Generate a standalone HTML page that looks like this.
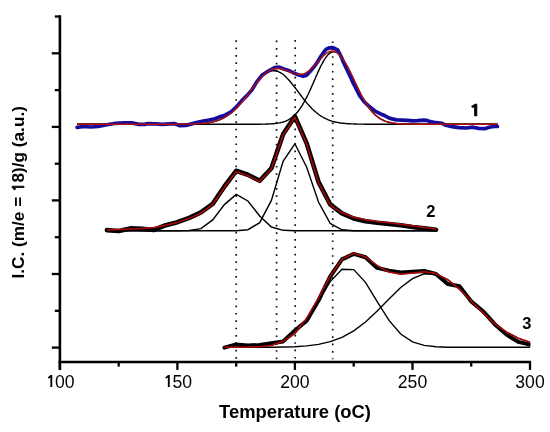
<!DOCTYPE html>
<html><head><meta charset="utf-8"><title>TPD plot</title>
<style>
html,body{margin:0;padding:0;background:#fff;width:550px;height:432px;overflow:hidden}
svg{display:block}
text{font-family:"Liberation Sans",Arial,sans-serif;fill:#000}
.tl{font-size:17.6px}
.xt{font-size:18.4px;font-weight:bold}
.yt{font-size:17.2px;font-weight:bold}
.lb{font-size:16.5px;font-weight:bold}
.one{font-family:"NanumGothic","Liberation Sans",sans-serif;font-weight:bold;font-size:15.5px}
.oneb{font-family:"NanumGothic","Liberation Sans",sans-serif;font-weight:bold;font-size:14.8px;stroke:#000;stroke-width:0.6px}
.oney{font-family:"NanumGothic","Liberation Sans",sans-serif;font-weight:bold;font-size:14.8px;stroke:#000;stroke-width:0.7px}
</style></head><body>
<svg width="550" height="432" viewBox="0 0 550 432">
<defs><clipPath id="cp"><rect x="0" y="0" width="530.5" height="432"/></clipPath></defs>
<rect width="550" height="432" fill="#fff"/>
<line x1="236.2" y1="40.2" x2="236.2" y2="359.2" stroke="#111" stroke-width="1.7" stroke-dasharray="1.7 5.67"/>
<line x1="276.6" y1="40.6" x2="276.6" y2="359.2" stroke="#111" stroke-width="1.7" stroke-dasharray="1.7 5.67"/>
<line x1="295.2" y1="40.0" x2="295.2" y2="359.2" stroke="#111" stroke-width="1.7" stroke-dasharray="1.7 5.67"/>
<line x1="332.7" y1="41.4" x2="332.7" y2="359.2" stroke="#111" stroke-width="1.7" stroke-dasharray="1.7 5.67"/>
<polyline points="77.0,124.2 78.1,124.2 79.1,124.2 80.2,124.2 81.2,124.2 82.3,124.2 83.3,124.2 84.4,124.2 85.4,124.2 86.5,124.2 87.5,124.2 88.6,124.2 89.6,124.2 90.7,124.2 91.8,124.2 92.8,124.2 93.9,124.2 94.9,124.2 96.0,124.2 97.0,124.2 98.1,124.2 99.1,124.2 100.2,124.2 101.2,124.2 102.3,124.2 103.3,124.2 104.4,124.2 105.5,124.2 106.5,124.2 107.6,124.2 108.6,124.2 109.7,124.2 110.7,124.2 111.8,124.2 112.8,124.2 113.9,124.2 114.9,124.2 116.0,124.2 117.0,124.2 118.1,124.2 119.2,124.2 120.2,124.2 121.3,124.2 122.3,124.2 123.4,124.2 124.4,124.2 125.5,124.2 126.5,124.2 127.6,124.2 128.6,124.2 129.7,124.2 130.7,124.2 131.8,124.2 132.9,124.2 133.9,124.2 135.0,124.2 136.0,124.2 137.1,124.2 138.1,124.2 139.2,124.2 140.2,124.2 141.3,124.2 142.3,124.2 143.4,124.2 144.4,124.2 145.5,124.2 146.6,124.2 147.6,124.2 148.7,124.2 149.7,124.2 150.8,124.2 151.8,124.2 152.9,124.2 153.9,124.2 155.0,124.2 156.0,124.2 157.1,124.2 158.1,124.2 159.2,124.2 160.3,124.2 161.3,124.2 162.4,124.2 163.4,124.2 164.5,124.2 165.5,124.2 166.6,124.2 167.6,124.2 168.7,124.2 169.7,124.2 170.8,124.2 171.8,124.2 172.9,124.2 174.0,124.2 175.0,124.2 176.1,124.2 177.1,124.2 178.2,124.2 179.2,124.2 180.3,124.2 181.3,124.2 182.4,124.2 183.4,124.1 184.5,124.1 185.6,124.1 186.6,124.1 187.7,124.1 188.7,124.1 189.8,124.1 190.8,124.0 191.9,124.0 192.9,124.0 194.0,124.0 195.0,123.9 196.1,123.9 197.1,123.8 198.2,123.8 199.3,123.7 200.3,123.6 201.4,123.6 202.4,123.5 203.5,123.4 204.5,123.3 205.6,123.2 206.6,123.0 207.7,122.9 208.7,122.7 209.8,122.5 210.8,122.3 211.9,122.1 213.0,121.9 214.0,121.6 215.1,121.3 216.1,121.0 217.2,120.7 218.2,120.3 219.3,119.9 220.3,119.4 221.4,119.0 222.4,118.5 223.5,117.9 224.5,117.3 225.6,116.7 226.7,116.0 227.7,115.3 228.8,114.6 229.8,113.8 230.9,113.0 231.9,112.1 233.0,111.1 234.0,110.2 235.1,109.2 236.1,108.1 237.2,107.0 238.2,105.8 239.3,104.7 240.4,103.4 241.4,102.2 242.5,100.9 243.5,99.6 244.6,98.2 245.6,96.9 246.7,95.5 247.7,94.1 248.8,92.7 249.8,91.3 250.9,89.9 251.9,88.5 253.0,87.1 254.1,85.7 255.1,84.4 256.2,83.1 257.2,81.8 258.3,80.6 259.3,79.4 260.4,78.3 261.4,77.2 262.5,76.2 263.5,75.3 264.6,74.4 265.6,73.6 266.7,72.9 267.8,72.3 268.8,71.8 269.9,71.4 270.9,71.1 272.0,70.9 273.0,70.7 274.1,70.7 275.1,70.8 276.2,71.0 277.2,71.2 278.3,71.6 279.3,72.1 280.4,72.6 281.5,73.3 282.5,74.0 283.6,74.8 284.6,75.7 285.7,76.7 286.7,77.8 287.8,78.9 288.8,80.0 289.9,81.2 290.9,82.5 292.0,83.8 293.0,85.1 294.1,86.5 295.2,87.8 296.2,89.2 297.3,90.6 298.3,92.0 299.4,93.4 300.4,94.8 301.5,96.2 302.5,97.6 303.6,99.0 304.6,100.3 305.7,101.6 306.7,102.9 307.8,104.1 308.9,105.3 309.9,106.5 311.0,107.6 312.0,108.7 313.1,109.7 314.1,110.7 315.2,111.6 316.2,112.5 317.3,113.4 318.3,114.2 319.4,115.0 320.4,115.7 321.5,116.4 322.6,117.0 323.6,117.7 324.7,118.2 325.7,118.7 326.8,119.2 327.8,119.7 328.9,120.1 329.9,120.5 331.0,120.8 332.0,121.2 333.1,121.5 334.1,121.7 335.2,122.0 336.3,122.2 337.3,122.4 338.4,122.6 339.4,122.8 340.5,123.0 341.5,123.1 342.6,123.2 343.6,123.3 344.7,123.4 345.7,123.5 346.8,123.6 347.8,123.7 348.9,123.7 350.0,123.8 351.0,123.9 352.1,123.9 353.1,123.9 354.2,124.0 355.2,124.0 356.3,124.0 357.3,124.1 358.4,124.1 359.4,124.1 360.5,124.1 361.5,124.1 362.6,124.1 363.7,124.1 364.7,124.2 365.8,124.2 366.8,124.2 367.9,124.2 368.9,124.2 370.0,124.2 371.0,124.2 372.1,124.2 373.1,124.2 374.2,124.2 375.2,124.2 376.3,124.2 377.4,124.2 378.4,124.2 379.5,124.2 380.5,124.2 381.6,124.2 382.6,124.2 383.7,124.2 384.7,124.2 385.8,124.2 386.8,124.2 387.9,124.2 388.9,124.2 390.0,124.2 391.1,124.2 392.1,124.2 393.2,124.2 394.2,124.2 395.3,124.2 396.3,124.2 397.4,124.2 398.4,124.2 399.5,124.2 400.5,124.2 401.6,124.2 402.7,124.2 403.7,124.2 404.8,124.2 405.8,124.2 406.9,124.2 407.9,124.2 409.0,124.2 410.0,124.2 411.1,124.2 412.1,124.2 413.2,124.2 414.2,124.2 415.3,124.2 416.4,124.2 417.4,124.2 418.5,124.2 419.5,124.2 420.6,124.2 421.6,124.2 422.7,124.2 423.7,124.2 424.8,124.2 425.8,124.2 426.9,124.2 427.9,124.2 429.0,124.2 430.1,124.2 431.1,124.2 432.2,124.2 433.2,124.2 434.3,124.2 435.3,124.2 436.4,124.2 437.4,124.2 438.5,124.2 439.5,124.2 440.6,124.2 441.6,124.2 442.7,124.2 443.8,124.2 444.8,124.2 445.9,124.2 446.9,124.2 448.0,124.2 449.0,124.2 450.1,124.2 451.1,124.2 452.2,124.2 453.2,124.2 454.3,124.2 455.3,124.2 456.4,124.2 457.5,124.2 458.5,124.2 459.6,124.2 460.6,124.2 461.7,124.2 462.7,124.2 463.8,124.2 464.8,124.2 465.9,124.2 466.9,124.2 468.0,124.2 469.0,124.2 470.1,124.2 471.2,124.2 472.2,124.2 473.3,124.2 474.3,124.2 475.4,124.2 476.4,124.2 477.5,124.2 478.5,124.2 479.6,124.2 480.6,124.2 481.7,124.2 482.7,124.2 483.8,124.2 484.9,124.2 485.9,124.2 487.0,124.2 488.0,124.2 489.1,124.2 490.1,124.2 491.2,124.2 492.2,124.2 493.3,124.2 494.3,124.2 495.4,124.2 496.4,124.2 497.5,124.2" fill="none" stroke="#000" stroke-width="1.4"/>
<polyline points="77.0,124.2 78.1,124.2 79.1,124.2 80.2,124.2 81.2,124.2 82.3,124.2 83.3,124.2 84.4,124.2 85.4,124.2 86.5,124.2 87.5,124.2 88.6,124.2 89.6,124.2 90.7,124.2 91.8,124.2 92.8,124.2 93.9,124.2 94.9,124.2 96.0,124.2 97.0,124.2 98.1,124.2 99.1,124.2 100.2,124.2 101.2,124.2 102.3,124.2 103.3,124.2 104.4,124.2 105.5,124.2 106.5,124.2 107.6,124.2 108.6,124.2 109.7,124.2 110.7,124.2 111.8,124.2 112.8,124.2 113.9,124.2 114.9,124.2 116.0,124.2 117.0,124.2 118.1,124.2 119.2,124.2 120.2,124.2 121.3,124.2 122.3,124.2 123.4,124.2 124.4,124.2 125.5,124.2 126.5,124.2 127.6,124.2 128.6,124.2 129.7,124.2 130.7,124.2 131.8,124.2 132.9,124.2 133.9,124.2 135.0,124.2 136.0,124.2 137.1,124.2 138.1,124.2 139.2,124.2 140.2,124.2 141.3,124.2 142.3,124.2 143.4,124.2 144.4,124.2 145.5,124.2 146.6,124.2 147.6,124.2 148.7,124.2 149.7,124.2 150.8,124.2 151.8,124.2 152.9,124.2 153.9,124.2 155.0,124.2 156.0,124.2 157.1,124.2 158.1,124.2 159.2,124.2 160.3,124.2 161.3,124.2 162.4,124.2 163.4,124.2 164.5,124.2 165.5,124.2 166.6,124.2 167.6,124.2 168.7,124.2 169.7,124.2 170.8,124.2 171.8,124.2 172.9,124.2 174.0,124.2 175.0,124.2 176.1,124.2 177.1,124.2 178.2,124.2 179.2,124.2 180.3,124.2 181.3,124.2 182.4,124.2 183.4,124.2 184.5,124.2 185.6,124.2 186.6,124.2 187.7,124.2 188.7,124.2 189.8,124.2 190.8,124.2 191.9,124.2 192.9,124.2 194.0,124.2 195.0,124.2 196.1,124.2 197.1,124.2 198.2,124.2 199.3,124.2 200.3,124.2 201.4,124.2 202.4,124.2 203.5,124.2 204.5,124.2 205.6,124.2 206.6,124.2 207.7,124.2 208.7,124.2 209.8,124.2 210.8,124.2 211.9,124.2 213.0,124.2 214.0,124.2 215.1,124.2 216.1,124.2 217.2,124.2 218.2,124.2 219.3,124.2 220.3,124.2 221.4,124.2 222.4,124.2 223.5,124.2 224.5,124.2 225.6,124.2 226.7,124.2 227.7,124.2 228.8,124.2 229.8,124.2 230.9,124.2 231.9,124.2 233.0,124.2 234.0,124.2 235.1,124.2 236.1,124.2 237.2,124.2 238.2,124.2 239.3,124.2 240.4,124.2 241.4,124.2 242.5,124.2 243.5,124.2 244.6,124.2 245.6,124.2 246.7,124.2 247.7,124.2 248.8,124.2 249.8,124.2 250.9,124.2 251.9,124.2 253.0,124.2 254.1,124.2 255.1,124.2 256.2,124.2 257.2,124.2 258.3,124.2 259.3,124.2 260.4,124.2 261.4,124.1 262.5,124.1 263.5,124.1 264.6,124.1 265.6,124.1 266.7,124.0 267.8,124.0 268.8,124.0 269.9,123.9 270.9,123.9 272.0,123.8 273.0,123.7 274.1,123.6 275.1,123.5 276.2,123.4 277.2,123.3 278.3,123.1 279.3,122.9 280.4,122.7 281.5,122.4 282.5,122.2 283.6,121.8 284.6,121.5 285.7,121.1 286.7,120.6 287.8,120.1 288.8,119.5 289.9,118.9 290.9,118.2 292.0,117.4 293.0,116.5 294.1,115.6 295.2,114.6 296.2,113.5 297.3,112.3 298.3,111.0 299.4,109.6 300.4,108.1 301.5,106.5 302.5,104.8 303.6,103.0 304.6,101.1 305.7,99.1 306.7,97.1 307.8,95.0 308.9,92.7 309.9,90.5 311.0,88.1 312.0,85.8 313.1,83.4 314.1,80.9 315.2,78.5 316.2,76.1 317.3,73.7 318.3,71.4 319.4,69.1 320.4,66.9 321.5,64.8 322.6,62.8 323.6,60.9 324.7,59.2 325.7,57.6 326.8,56.2 327.8,54.9 328.9,53.9 329.9,53.1 331.0,52.4 332.0,52.0 333.1,51.8 334.1,51.8 335.2,52.0 336.3,52.4 337.3,53.0 338.4,53.8 339.4,54.7 340.5,55.8 341.5,57.1 342.6,58.5 343.6,60.1 344.7,61.8 345.7,63.6 346.8,65.5 347.8,67.4 348.9,69.5 350.0,71.6 351.0,73.8 352.1,76.0 353.1,78.3 354.2,80.5 355.2,82.8 356.3,85.0 357.3,87.2 358.4,89.4 359.4,91.5 360.5,93.6 361.5,95.6 362.6,97.6 363.7,99.5 364.7,101.3 365.8,103.1 366.8,104.7 367.9,106.3 368.9,107.8 370.0,109.2 371.0,110.5 372.1,111.7 373.1,112.9 374.2,114.0 375.2,115.0 376.3,115.9 377.4,116.7 378.4,117.5 379.5,118.2 380.5,118.9 381.6,119.5 382.6,120.0 383.7,120.5 384.7,120.9 385.8,121.3 386.8,121.7 387.9,122.0 388.9,122.3 390.0,122.5 391.1,122.8 392.1,123.0 393.2,123.1 394.2,123.3 395.3,123.4 396.3,123.5 397.4,123.6 398.4,123.7 399.5,123.8 400.5,123.8 401.6,123.9 402.7,123.9 403.7,124.0 404.8,124.0 405.8,124.1 406.9,124.1 407.9,124.1 409.0,124.1 410.0,124.1 411.1,124.1 412.1,124.2 413.2,124.2 414.2,124.2 415.3,124.2 416.4,124.2 417.4,124.2 418.5,124.2 419.5,124.2 420.6,124.2 421.6,124.2 422.7,124.2 423.7,124.2 424.8,124.2 425.8,124.2 426.9,124.2 427.9,124.2 429.0,124.2 430.1,124.2 431.1,124.2 432.2,124.2 433.2,124.2 434.3,124.2 435.3,124.2 436.4,124.2 437.4,124.2 438.5,124.2 439.5,124.2 440.6,124.2 441.6,124.2 442.7,124.2 443.8,124.2 444.8,124.2 445.9,124.2 446.9,124.2 448.0,124.2 449.0,124.2 450.1,124.2 451.1,124.2 452.2,124.2 453.2,124.2 454.3,124.2 455.3,124.2 456.4,124.2 457.5,124.2 458.5,124.2 459.6,124.2 460.6,124.2 461.7,124.2 462.7,124.2 463.8,124.2 464.8,124.2 465.9,124.2 466.9,124.2 468.0,124.2 469.0,124.2 470.1,124.2 471.2,124.2 472.2,124.2 473.3,124.2 474.3,124.2 475.4,124.2 476.4,124.2 477.5,124.2 478.5,124.2 479.6,124.2 480.6,124.2 481.7,124.2 482.7,124.2 483.8,124.2 484.9,124.2 485.9,124.2 487.0,124.2 488.0,124.2 489.1,124.2 490.1,124.2 491.2,124.2 492.2,124.2 493.3,124.2 494.3,124.2 495.4,124.2 496.4,124.2 497.5,124.2" fill="none" stroke="#000" stroke-width="1.4"/>
<polyline points="77.1,127.3 83.6,126.5 90.9,127.0 98.2,126.5 106.9,124.8 115.6,123.3 124.4,122.9 131.6,122.9 138.9,124.4 144.7,124.4 148.0,123.6 155.3,123.9 162.5,124.3 169.8,123.9 174.2,123.6 180.0,125.7 185.8,125.4 191.6,123.9 197.5,122.2 203.3,121.0 209.1,120.0 214.9,118.8 220.7,116.6 225.0,115.2 231.0,111.9 236.3,107.0 241.6,100.9 247.6,94.9 252.1,89.6 256.6,82.1 261.9,75.3 268.7,70.8 274.6,67.6 279.3,67.1 283.9,69.0 288.5,70.4 294.0,73.1 298.0,74.8 303.3,76.3 306.5,75.3 310.0,71.5 314.0,66.8 317.5,62.0 320.8,56.5 323.5,52.5 326.2,49.2 329.5,47.8 333.0,47.6 337.6,50.0 339.8,54.0 341.8,58.0 343.3,62.0 345.2,66.0 347.0,69.8 350.0,76.0 353.4,83.5 356.2,88.8 359.8,95.8 364.0,101.5 369.0,106.3 375.2,111.2 381.5,114.3 385.0,115.8 388.0,117.4 392.0,118.9 396.6,119.9 401.3,120.1 407.1,120.4 412.9,120.9 417.6,120.7 423.4,120.1 426.9,120.4 431.5,121.9 436.2,122.7 442.0,123.4 445.0,124.9 452.0,126.6 459.0,127.6 466.0,128.0 472.9,127.2 478.7,128.4 484.6,128.7 489.2,127.2 493.9,126.4 497.4,126.4" fill="none" stroke="#140c9e" stroke-width="3.7" stroke-linejoin="round" stroke-linecap="round"/>
<polyline points="77.0,124.2 78.1,124.2 79.1,124.2 80.2,124.2 81.2,124.2 82.3,124.2 83.3,124.2 84.4,124.2 85.4,124.2 86.5,124.2 87.5,124.2 88.6,124.2 89.6,124.2 90.7,124.2 91.8,124.2 92.8,124.2 93.9,124.2 94.9,124.2 96.0,124.2 97.0,124.2 98.1,124.2 99.1,124.2 100.2,124.2 101.2,124.2 102.3,124.2 103.3,124.2 104.4,124.2 105.5,124.2 106.5,124.2 107.6,124.2 108.6,124.2 109.7,124.2 110.7,124.2 111.8,124.2 112.8,124.2 113.9,124.2 114.9,124.2 116.0,124.2 117.0,124.2 118.1,124.2 119.2,124.2 120.2,124.2 121.3,124.2 122.3,124.2 123.4,124.2 124.4,124.2 125.5,124.2 126.5,124.2 127.6,124.2 128.6,124.2 129.7,124.2 130.7,124.2 131.8,124.2 132.9,124.2 133.9,124.2 135.0,124.2 136.0,124.2 137.1,124.2 138.1,124.2 139.2,124.2 140.2,124.2 141.3,124.2 142.3,124.2 143.4,124.2 144.4,124.2 145.5,124.2 146.6,124.2 147.6,124.2 148.7,124.2 149.7,124.2 150.8,124.2 151.8,124.2 152.9,124.2 153.9,124.2 155.0,124.2 156.0,124.2 157.1,124.2 158.1,124.2 159.2,124.2 160.3,124.2 161.3,124.2 162.4,124.2 163.4,124.2 164.5,124.2 165.5,124.2 166.6,124.2 167.6,124.2 168.7,124.2 169.7,124.2 170.8,124.2 171.8,124.2 172.9,124.2 174.0,124.2 175.0,124.2 176.1,124.2 177.1,124.2 178.2,124.2 179.2,124.2 180.3,124.2 181.3,124.2 182.4,124.2 183.4,124.1 184.5,124.1 185.6,124.1 186.6,124.1 187.7,124.1 188.7,124.1 189.8,124.1 190.8,124.0 191.9,124.0 192.9,124.0 194.0,123.9 195.0,123.9 196.1,123.9 197.1,123.8 198.2,123.8 199.3,123.7 200.3,123.6 201.4,123.6 202.4,123.5 203.5,123.4 204.5,123.3 205.6,123.2 206.6,123.0 207.7,122.9 208.7,122.7 209.8,122.5 210.8,122.3 211.9,122.1 213.0,121.9 214.0,121.6 215.1,121.4 216.1,121.0 217.2,120.7 218.2,120.3 219.3,120.0 220.3,119.5 221.4,119.1 222.4,118.6 223.5,118.0 224.5,117.5 225.6,116.9 226.7,116.2 227.7,115.5 228.8,114.8 229.8,114.0 230.9,113.2 231.9,112.4 233.0,111.5 234.0,110.5 235.1,109.5 236.1,108.5 237.2,107.4 238.2,106.3 239.3,105.1 240.4,104.0 241.4,102.7 242.5,101.5 243.5,100.2 244.6,98.8 245.6,97.5 246.7,96.1 247.7,94.7 248.8,93.3 249.8,91.9 250.9,90.5 251.9,89.1 253.0,87.7 254.1,86.3 255.1,84.9 256.2,83.6 257.2,82.2 258.3,81.0 259.3,79.7 260.4,78.5 261.4,77.3 262.5,76.2 263.5,75.2 264.6,74.2 265.6,73.3 266.7,72.5 267.8,71.7 268.8,71.0 269.9,70.4 270.9,69.9 272.0,69.5 273.0,69.1 274.1,68.8 275.1,68.6 276.2,68.5 277.2,68.4 278.3,68.5 279.3,68.6 280.4,68.7 281.5,69.0 282.5,69.2 283.6,69.5 284.6,69.9 285.7,70.3 286.7,70.7 287.8,71.1 288.8,71.6 289.9,72.0 290.9,72.4 292.0,72.8 293.0,73.2 294.1,73.6 295.2,73.9 296.2,74.1 297.3,74.3 298.3,74.4 299.4,74.4 300.4,74.4 301.5,74.2 302.5,74.0 303.6,73.7 304.6,73.3 305.7,72.8 306.7,72.2 307.8,71.6 308.9,70.8 309.9,70.0 311.0,69.1 312.0,68.1 313.1,67.0 314.1,65.9 315.2,64.8 316.2,63.6 317.3,62.4 318.3,61.2 319.4,60.0 320.4,58.9 321.5,57.7 322.6,56.7 323.6,55.6 324.7,54.7 325.7,53.8 326.8,53.1 327.8,52.4 328.9,51.9 329.9,51.5 331.0,51.2 332.0,51.1 333.1,51.2 334.1,51.4 335.2,51.7 336.3,52.2 337.3,52.9 338.4,53.7 339.4,54.7 340.5,55.8 341.5,57.1 342.6,58.5 343.6,60.1 344.7,61.7 345.7,63.5 346.8,65.4 347.8,67.3 348.9,69.4 350.0,71.5 351.0,73.6 352.1,75.8 353.1,78.0 354.2,80.2 355.2,82.5 356.3,84.7 357.3,86.9 358.4,89.0 359.4,91.2 360.5,93.2 361.5,95.3 362.6,97.2 363.7,99.1 364.7,101.0 365.8,102.7 366.8,104.4 367.9,106.0 368.9,107.5 370.0,108.9 371.0,110.2 372.1,111.5 373.1,112.7 374.2,113.7 375.2,114.8 376.3,115.7 377.4,116.6 378.4,117.4 379.5,118.1 380.5,118.8 381.6,119.4 382.6,119.9 383.7,120.4 384.7,120.9 385.8,121.3 386.8,121.6 387.9,121.9 388.9,122.2 390.0,122.5 391.1,122.7 392.1,122.9 393.2,123.1 394.2,123.2 395.3,123.4 396.3,123.5 397.4,123.6 398.4,123.7 399.5,123.8 400.5,123.8 401.6,123.9 402.7,123.9 403.7,124.0 404.8,124.0 405.8,124.0 406.9,124.1 407.9,124.1 409.0,124.1 410.0,124.1 411.1,124.1 412.1,124.2 413.2,124.2 414.2,124.2 415.3,124.2 416.4,124.2 417.4,124.2 418.5,124.2 419.5,124.2 420.6,124.2 421.6,124.2 422.7,124.2 423.7,124.2 424.8,124.2 425.8,124.2 426.9,124.2 427.9,124.2 429.0,124.2 430.1,124.2 431.1,124.2 432.2,124.2 433.2,124.2 434.3,124.2 435.3,124.2 436.4,124.2 437.4,124.2 438.5,124.2 439.5,124.2 440.6,124.2 441.6,124.2 442.7,124.2 443.8,124.2 444.8,124.2 445.9,124.2 446.9,124.2 448.0,124.2 449.0,124.2 450.1,124.2 451.1,124.2 452.2,124.2 453.2,124.2 454.3,124.2 455.3,124.2 456.4,124.2 457.5,124.2 458.5,124.2 459.6,124.2 460.6,124.2 461.7,124.2 462.7,124.2 463.8,124.2 464.8,124.2 465.9,124.2 466.9,124.2 468.0,124.2 469.0,124.2 470.1,124.2 471.2,124.2 472.2,124.2 473.3,124.2 474.3,124.2 475.4,124.2 476.4,124.2 477.5,124.2 478.5,124.2 479.6,124.2 480.6,124.2 481.7,124.2 482.7,124.2 483.8,124.2 484.9,124.2 485.9,124.2 487.0,124.2 488.0,124.2 489.1,124.2 490.1,124.2 491.2,124.2 492.2,124.2 493.3,124.2 494.3,124.2 495.4,124.2 496.4,124.2 497.5,124.2" fill="none" stroke="#b40c0c" stroke-width="1.4"/>
<polyline points="106.9,230.8 177.4,230.8 189.2,230.5 200.9,228.6 212.7,219.9 224.4,204.6 236.2,194.4 247.9,201.0 259.7,216.0 271.4,227.0 283.2,230.3 294.9,230.8 436.0,230.8" fill="none" stroke="#000" stroke-width="1.4"/>
<polyline points="106.9,230.8 236.2,230.8 247.9,229.7 259.7,222.7 271.4,200.4 283.2,161.0 294.9,143.8 306.7,167.3 318.5,202.0 330.2,223.4 342.0,229.8 353.7,230.8 436.0,230.8" fill="none" stroke="#000" stroke-width="1.4"/>
<polyline points="106.9,230.1 118.7,231.0 130.4,228.4 142.2,228.9 153.9,230.0 165.7,225.2 177.4,222.2 189.2,217.8 200.9,212.4 212.7,203.9 224.4,186.5 236.2,170.8 247.9,174.8 259.7,180.8 271.4,168.3 283.2,134.0 294.9,116.4 306.7,143.3 318.5,181.9 330.2,204.4 342.0,213.4 353.7,218.5 365.5,221.2 377.2,222.8 389.0,224.0 400.7,225.3 412.5,227.0 424.2,228.4 436.0,229.8" fill="none" stroke="#000" stroke-width="4.6" stroke-linejoin="round" stroke-linecap="round"/>
<polyline points="106.9,230.1 118.7,229.6 130.4,229.0 142.2,228.4 153.9,227.4 165.7,225.3 177.4,222.4 189.2,218.4 200.9,213.2 212.7,204.7 224.4,187.3 236.2,171.6 247.9,175.6 259.7,181.6 271.4,169.1 283.2,134.8 294.9,117.2 306.7,144.1 318.5,182.7 330.2,205.2 342.0,212.8 353.7,217.2 365.5,219.8 377.2,221.4 389.0,222.8 400.7,224.2 412.5,225.8 424.2,227.4 436.0,229.0" fill="none" stroke="#b00808" stroke-width="1.5" stroke-linejoin="round"/>
<polyline points="224.4,347.3 236.2,347.3 247.9,347.2 259.7,346.7 271.4,345.3 283.2,341.5 294.9,333.5 306.7,319.7 318.5,300.8 330.2,281.6 342.0,269.3 353.7,269.6 365.5,282.3 377.2,301.6 389.0,320.4 400.7,334.0 412.5,341.8 424.2,345.4 436.0,346.7 447.7,347.2 459.5,347.3 471.2,347.3 483.0,347.3 494.7,347.3 506.5,347.3 518.2,347.3 530.0,347.3" fill="none" stroke="#000" stroke-width="1.4"/>
<polyline points="224.4,347.3 236.2,347.3 247.9,347.3 259.7,347.3 271.4,347.2 283.2,347.0 294.9,346.7 306.7,345.9 318.5,344.4 330.2,341.7 342.0,337.4 353.7,330.9 365.5,322.0 377.2,311.0 389.0,299.0 400.7,287.5 412.5,278.6 424.2,273.8 436.0,274.2 447.7,279.7 459.5,289.3 471.2,301.0 483.0,312.9 494.7,323.6 506.5,332.1 518.2,338.2 530.0,342.3" fill="none" stroke="#000" stroke-width="1.4"/>
<polyline points="224.4,347.6 236.2,344.4 247.9,345.4 259.7,345.0 271.4,343.2 283.2,341.4 294.9,330.5 306.7,320.7 318.5,300.5 330.2,276.5 342.0,259.4 353.7,253.9 365.5,257.2 377.2,267.9 389.0,270.6 400.7,272.5 412.5,271.7 424.2,271.0 436.0,274.0 447.7,284.0 459.5,286.3 471.2,301.4 483.0,311.2 494.7,324.2 506.5,334.6 518.2,341.9 530.0,344.6" fill="none" stroke="#000" stroke-width="4" stroke-linejoin="round" stroke-linecap="round" clip-path="url(#cp)"/>
<polyline points="224.4,347.3 236.2,347.3 247.9,347.1 259.7,346.7 271.4,345.2 283.2,341.3 294.9,332.9 306.7,318.3 318.5,297.9 330.2,276.1 342.0,259.4 353.7,253.2 365.5,257.0 377.2,265.4 389.0,272.1 400.7,274.2 412.5,273.0 424.2,271.8 436.0,273.6 447.7,279.6 459.5,289.2 471.2,301.0 483.0,312.9 494.7,323.6 506.5,332.1 518.2,338.2 530.0,342.3" fill="none" stroke="#b00808" stroke-width="1.5" stroke-linejoin="round"/>
<line x1="59.9" y1="15.2" x2="59.9" y2="369.9" stroke="#000" stroke-width="2.6"/>
<line x1="58.6" y1="362.1" x2="531.1" y2="362.1" stroke="#000" stroke-width="2.5"/>
<line x1="51.8" y1="53.3" x2="59.9" y2="53.3" stroke="#000" stroke-width="2.3"/>
<line x1="51.8" y1="126.9" x2="59.9" y2="126.9" stroke="#000" stroke-width="2.3"/>
<line x1="51.8" y1="200.4" x2="59.9" y2="200.4" stroke="#000" stroke-width="2.3"/>
<line x1="51.8" y1="274.0" x2="59.9" y2="274.0" stroke="#000" stroke-width="2.3"/>
<line x1="51.8" y1="347.6" x2="59.9" y2="347.6" stroke="#000" stroke-width="2.3"/>
<line x1="54.8" y1="16.5" x2="59.9" y2="16.5" stroke="#000" stroke-width="2.3"/>
<line x1="54.8" y1="90.1" x2="59.9" y2="90.1" stroke="#000" stroke-width="2.3"/>
<line x1="54.8" y1="163.7" x2="59.9" y2="163.7" stroke="#000" stroke-width="2.3"/>
<line x1="54.8" y1="237.2" x2="59.9" y2="237.2" stroke="#000" stroke-width="2.3"/>
<line x1="54.8" y1="310.8" x2="59.9" y2="310.8" stroke="#000" stroke-width="2.3"/>
<line x1="59.9" y1="362" x2="59.9" y2="369.9" stroke="#000" stroke-width="2.3"/>
<line x1="177.4" y1="362" x2="177.4" y2="369.9" stroke="#000" stroke-width="2.3"/>
<line x1="294.9" y1="362" x2="294.9" y2="369.9" stroke="#000" stroke-width="2.3"/>
<line x1="412.5" y1="362" x2="412.5" y2="369.9" stroke="#000" stroke-width="2.3"/>
<line x1="530.0" y1="362" x2="530.0" y2="369.9" stroke="#000" stroke-width="2.3"/>
<line x1="118.7" y1="362" x2="118.7" y2="366.6" stroke="#000" stroke-width="2.3"/>
<line x1="236.2" y1="362" x2="236.2" y2="366.6" stroke="#000" stroke-width="2.3"/>
<line x1="353.7" y1="362" x2="353.7" y2="366.6" stroke="#000" stroke-width="2.3"/>
<line x1="471.2" y1="362" x2="471.2" y2="366.6" stroke="#000" stroke-width="2.3"/>
<text x="294.9" y="387.7" text-anchor="middle" class="tl">200</text>
<text x="412.5" y="387.7" text-anchor="middle" class="tl">250</text>
<text x="530.0" y="387.7" text-anchor="middle" class="tl">300</text>
<text x="55.01" y="387.7" class="tl">00</text>
<text transform="translate(45.45,386.9) scale(1.15,1)" class="one">1</text>
<text x="172.53" y="387.7" class="tl">50</text>
<text transform="translate(162.90,386.9) scale(1.15,1)" class="one">1</text>
<text x="295" y="417.8" text-anchor="middle" class="xt">Temperature (oC)</text>
<text transform="translate(23.7,192.3) rotate(-90)" text-anchor="middle" class="yt">I.C. (m/e = <tspan class="oney" dx="0.3">1</tspan><tspan dx="0.29">8)/g (a.u.)</tspan></text>
<text transform="translate(468.9,115.5) scale(1.4,1)" class="oneb">1</text>
<text x="426.2" y="217.1" class="lb">2</text>
<text x="522.3" y="329.2" class="lb">3</text>
</svg>
</body></html>
